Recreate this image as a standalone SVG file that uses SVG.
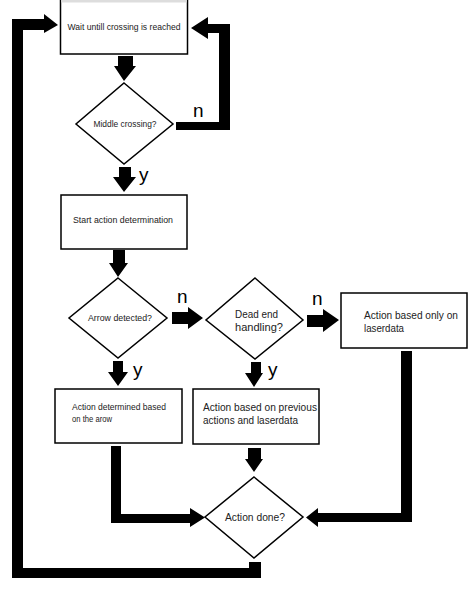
<svg xmlns="http://www.w3.org/2000/svg" width="474" height="589" viewBox="0 0 474 589">
<style>
.box{fill:#fff;stroke:#000;stroke-width:1.5}
.dia{fill:#fff;stroke:#000;stroke-width:1.5}
.arr{fill:#000;stroke:none}
.t{font-family:"Liberation Sans","Open Sans",sans-serif;fill:#222}
.s{font-size:9px}
.m{font-size:10.5px}
.lbl{font-family:"Liberation Sans","Open Sans",sans-serif;font-size:19px;fill:#000}
</style>
<rect width="474" height="589" fill="#fff"/>
<g id="connectors">
<polygon class="arr" points="118,56 133,56 133,66 136,66 124,81 114,66 118,66"/>
<polygon class="arr" points="176,130 230,130 230,24 208,24 208,17 191,28 208,39 208,33 219,33 219,122 176,122"/>
<polygon class="arr" points="119,167 131,167 131,177 136,177 124,192 113,177 119,177"/>
<polygon class="arr" points="113,250 125,250 125,263 128,263 118,277 109,263 113,263"/>
<polygon class="arr" points="172,312 188,312 188,307 203,318 188,329 188,324 172,324"/>
<polygon class="arr" points="113,361 123,361 123,372 128,372 118,386 108,372 113,372"/>
<polygon class="arr" points="307,315 323,315 323,309 339,320 323,332 323,327 307,327"/>
<polygon class="arr" points="251,362 261,362 261,373 263,373 254,387 245,373 251,373"/>
<polygon class="arr" points="111,446 121,446 121,514 190,514 190,508 205,517.5 190,527 190,523 111,523"/>
<polygon class="arr" points="248,448 261,448 261,459 263,459 254,472 245,459 248,459"/>
<polygon class="arr" points="401,351 412,351 412,522 318,522 318,527 306,517.5 318,508 318,513 401,513"/>
<polygon class="arr" points="249,562 261,562 261,578 12,578 12,19 44,19 44,14 58,25 44,33 44,30 23,30 23,568 249,568"/>
</g>
<g id="n-wait">
<rect class="box" x="60.5" y="-1" width="127" height="55"/>
<rect x="61.25" y="0" width="125.5" height="2.5" fill="#ddd"/>
<text class="t s" x="124" y="30" text-anchor="middle" textLength="113" lengthAdjust="spacingAndGlyphs">Wait untill crossing is reached</text>
</g>
<g id="n-middle">
<polygon class="dia" points="124,83 173,124 124,164 76,124"/>
<text class="t s" x="125" y="127" text-anchor="middle" textLength="63" lengthAdjust="spacingAndGlyphs">Middle crossing?</text>
</g>
<g id="n-start">
<rect class="box" x="61" y="195" width="126" height="54"/>
<text class="t s" x="123" y="223" text-anchor="middle" textLength="100" lengthAdjust="spacingAndGlyphs">Start action determination</text>
</g>
<g id="n-arrowdet">
<polygon class="dia" points="118,278 167,318 118,358 69,318"/>
<text class="t s" x="120" y="321" text-anchor="middle" textLength="64" lengthAdjust="spacingAndGlyphs">Arrow detected?</text>
</g>
<g id="n-deadend">
<polygon class="dia" points="255,278 303,320 255,359 206,320"/>
<text class="t m" x="235" y="318" textLength="43" lengthAdjust="spacingAndGlyphs">Dead end</text>
<text class="t m" x="235" y="331" textLength="48" lengthAdjust="spacingAndGlyphs">handling?</text>
</g>
<g id="n-laser">
<rect class="box" x="341" y="293" width="126" height="55"/>
<text class="t m" x="364" y="319" textLength="94" lengthAdjust="spacingAndGlyphs">Action based only on</text>
<text class="t m" x="364" y="332" textLength="40" lengthAdjust="spacingAndGlyphs">laserdata</text>
</g>
<g id="n-arrowact">
<rect class="box" x="55" y="389" width="127" height="54"/>
<text class="t s" x="72" y="410" textLength="94" lengthAdjust="spacingAndGlyphs">Action determined based</text>
<text class="t s" x="72" y="422" textLength="40" lengthAdjust="spacingAndGlyphs">on the arow</text>
</g>
<g id="n-previous">
<rect class="box" x="193" y="389" width="126" height="55"/>
<text class="t m" x="203" y="411" textLength="114" lengthAdjust="spacingAndGlyphs">Action based on previous</text>
<text class="t m" x="203" y="424" textLength="95" lengthAdjust="spacingAndGlyphs">actions and laserdata</text>
</g>
<g id="n-done">
<polygon class="dia" points="254,477 303,517 254,558 205,517"/>
<text class="t m" x="255" y="521" text-anchor="middle" textLength="60" lengthAdjust="spacingAndGlyphs">Action done?</text>
</g>
<g id="labels">
<text class="lbl" x="193" y="117">n</text>
<text class="lbl" x="139" y="181">y</text>
<text class="lbl" x="177" y="303">n</text>
<text class="lbl" x="312" y="305">n</text>
<text class="lbl" x="133" y="376">y</text>
<text class="lbl" x="268" y="376">y</text>
</g>
</svg>
